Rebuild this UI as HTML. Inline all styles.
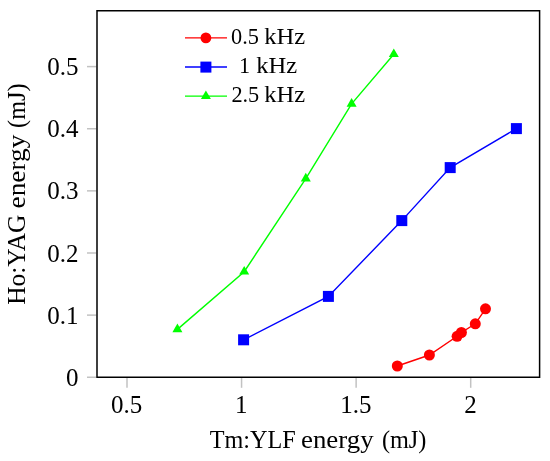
<!DOCTYPE html>
<html>
<head>
<meta charset="utf-8">
<style>
html,body{margin:0;padding:0;background:#fff;}
body{width:550px;height:461px;overflow:hidden;}
svg{display:block;will-change:transform;}
text{font-family:"Liberation Serif",serif;fill:#000;}
</style>
</head>
<body>
<svg width="550" height="461" viewBox="0 0 550 461">
<rect x="0" y="0" width="550" height="461" fill="#fff"/>
<!-- ticks -->
<g stroke="#c2c2c2" stroke-width="1.5">
<line x1="127.0" y1="378" x2="127.0" y2="387.8"/>
<line x1="241.56" y1="378" x2="241.56" y2="387.8"/>
<line x1="356.13" y1="378" x2="356.13" y2="387.8"/>
<line x1="470.7" y1="378" x2="470.7" y2="387.8"/>
<line x1="87" y1="377.25" x2="96.3" y2="377.25"/>
<line x1="87" y1="315.12" x2="96.3" y2="315.12"/>
<line x1="87" y1="252.99" x2="96.3" y2="252.99"/>
<line x1="87" y1="190.86" x2="96.3" y2="190.86"/>
<line x1="87" y1="128.73" x2="96.3" y2="128.73"/>
<line x1="87" y1="66.6" x2="96.3" y2="66.6"/>
</g>
<!-- axis box -->
<rect x="97.0" y="10.75" width="442.6" height="366.5" fill="none" stroke="#000" stroke-width="1.5"/>
<!-- tick labels -->
<g font-size="25">
<text x="126.5" y="413.2" text-anchor="middle">0.5</text>
<text x="241.2" y="413.2" text-anchor="middle">1</text>
<text x="355.8" y="413.2" text-anchor="middle">1.5</text>
<text x="470.5" y="413.2" text-anchor="middle">2</text>
<text x="78.5" y="385.7" text-anchor="end">0</text>
<text x="78.5" y="323.6" text-anchor="end">0.1</text>
<text x="78.5" y="261.5" text-anchor="end">0.2</text>
<text x="78.5" y="199.4" text-anchor="end">0.3</text>
<text x="78.5" y="137.3" text-anchor="end">0.4</text>
<text x="78.5" y="75.2" text-anchor="end">0.5</text>
</g>
<!-- axis labels -->
<g font-size="25">
<text x="209.7" y="447.5" textLength="86.08" lengthAdjust="spacingAndGlyphs">Tm:YLF</text>
<text x="301.0" y="447.5" textLength="72.6" lengthAdjust="spacingAndGlyphs">energy</text>
<text x="381.9" y="447.5" textLength="44.48" lengthAdjust="spacingAndGlyphs">(mJ)</text>
<text transform="translate(24.7,304.8) rotate(-90)" textLength="90.14" lengthAdjust="spacingAndGlyphs">Ho:YAG</text>
<text transform="translate(24.7,208.5) rotate(-90)" textLength="73.93" lengthAdjust="spacingAndGlyphs">energy</text>
<text transform="translate(24.7,127.9) rotate(-90)" textLength="44.58" lengthAdjust="spacingAndGlyphs">(mJ)</text>
</g>
<!-- series: red 0.5 kHz -->
<g stroke="#f00" stroke-width="1.4" fill="none">
<polyline points="397.3,366.0 429.4,355.0 457.1,336.3 461.4,332.5 475.3,323.8 485.5,308.8"/>
</g>
<g fill="#f00">
<circle cx="397.3" cy="366.0" r="5.5"/>
<circle cx="429.4" cy="355.0" r="5.5"/>
<circle cx="457.1" cy="336.3" r="5.5"/>
<circle cx="461.4" cy="332.5" r="5.5"/>
<circle cx="475.3" cy="323.8" r="5.5"/>
<circle cx="485.5" cy="308.8" r="5.5"/>
</g>
<!-- blue 1 kHz -->
<g stroke="#00f" stroke-width="1.4" fill="none">
<polyline points="243.6,339.8 328.4,296.4 401.8,220.6 450.2,167.6 516.4,128.6"/>
</g>
<g fill="#00f">
<rect x="238.1" y="334.3" width="11" height="11"/>
<rect x="322.9" y="290.9" width="11" height="11"/>
<rect x="396.3" y="215.1" width="11" height="11"/>
<rect x="444.7" y="162.1" width="11" height="11"/>
<rect x="510.9" y="123.1" width="11" height="11"/>
</g>
<!-- green 2.5 kHz -->
<g stroke="#0f0" stroke-width="1.4" fill="none">
<polyline points="177.4,329.4 244.2,271.7 305.8,178.6 351.6,103.8 393.8,54.2"/>
</g>
<g fill="#0f0">
<path d="M177.4,323.6 L182.4,332.3 L172.4,332.3 Z"/>
<path d="M244.2,265.9 L249.2,274.6 L239.2,274.6 Z"/>
<path d="M305.8,172.8 L310.8,181.5 L300.8,181.5 Z"/>
<path d="M351.6,98.0 L356.6,106.7 L346.6,106.7 Z"/>
<path d="M393.8,48.4 L398.8,57.1 L388.8,57.1 Z"/>
</g>
<!-- legend -->
<g stroke-width="1.3">
<line x1="185" y1="37.9" x2="227" y2="37.9" stroke="#f00"/>
<line x1="185" y1="67.0" x2="227" y2="67.0" stroke="#00f"/>
<line x1="185" y1="96.1" x2="227" y2="96.1" stroke="#0f0"/>
</g>
<circle cx="205.9" cy="37.9" r="5.4" fill="#f00"/>
<rect x="200.4" y="61.6" width="11" height="11" fill="#00f"/>
<path d="M205.9,90.4 L210.9,99.1 L200.9,99.1 Z" fill="#0f0"/>
<g font-size="22.3">
<text x="231.1" y="43.8">0.5</text>
<text x="264.2" y="43.8" textLength="40.9" lengthAdjust="spacingAndGlyphs">kHz</text>
<text x="239.0" y="72.9">1</text>
<text x="256.2" y="72.9" textLength="40.9" lengthAdjust="spacingAndGlyphs">kHz</text>
<text x="231.4" y="101.9">2.5</text>
<text x="264.3" y="101.9" textLength="40.9" lengthAdjust="spacingAndGlyphs">kHz</text>
</g>
</svg>
</body>
</html>
